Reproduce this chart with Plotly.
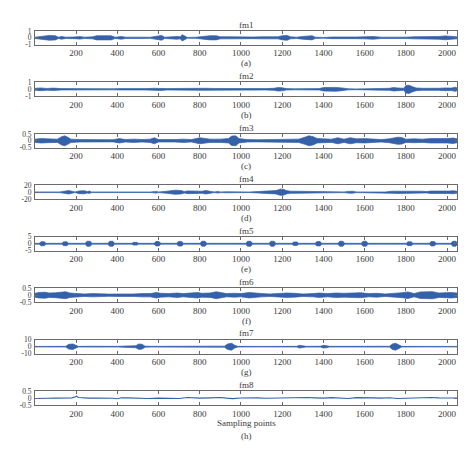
import plotly.graph_objects as go

# ---------------- data (envelopes) ----------------
names = ["fm1", "fm2", "fm3", "fm4", "fm5", "fm6", "fm7", "fm8"]
sublabels = ["(a)", "(b)", "(c)", "(d)", "(e)", "(f)", "(g)", "(h)"]
y_limits = [1, 1, 0.5, 20, 5, 0.5, 10, 0.5]
x_ticks = [200, 400, 600, 800, 1000, 1200, 1400, 1600, 1800, 2000]
x_range = [1, 2048]
x_title = "Sampling points"

# (sample, amplitude) envelope breakpoints
fm1_env = [(1,0.1),(20,0.15),(40,0.3),(70,0.35),(100,0.3),(115,0.1),(130,0.2),(150,0.1),(190,0.12),
           (220,0.18),(240,0.1),(280,0.15),(300,0.3),(340,0.3),(370,0.3),(390,0.1),(420,0.2),(440,0.1),
           (480,0.15),(520,0.1),(560,0.08),(600,0.3),(615,0.35),(630,0.1),(660,0.2),(690,0.2),(705,0.15),
           (715,0.45),(725,0.3),(740,0.05),(780,0.08),(820,0.25),(850,0.3),(880,0.3),(900,0.15),(940,0.15),
           (980,0.12),(1020,0.15),(1060,0.12),(1100,0.15),(1140,0.12),(1180,0.15),(1200,0.3),(1225,0.35),
           (1240,0.15),(1270,0.1),(1300,0.2),(1330,0.3),(1345,0.3),(1360,0.1),(1400,0.05),(1440,0.12),
           (1480,0.1),(1520,0.15),(1560,0.12),(1600,0.15),(1640,0.2),(1680,0.1),(1720,0.08),(1760,0.12),
           (1800,0.1),(1840,0.15),(1880,0.15),(1920,0.18),(1960,0.2),(1990,0.28),(2020,0.25),(2048,0.15)]

fm2_env = [(1,0.15),(30,0.2),(60,0.12),(90,0.18),(130,0.1),(180,0.08),(240,0.06),(300,0.1),(340,0.06),
           (380,0.08),(420,0.1),(460,0.08),(500,0.12),(540,0.1),(580,0.15),(610,0.18),(640,0.1),(690,0.12),
           (750,0.15),(770,0.2),(790,0.12),(830,0.15),(870,0.12),(920,0.1),(960,0.08),(1000,0.1),(1040,0.08),
           (1080,0.12),(1120,0.1),(1160,0.15),(1180,0.25),(1200,0.22),(1220,0.1),(1260,0.08),(1300,0.12),
           (1340,0.08),(1380,0.1),(1400,0.25),(1430,0.3),(1460,0.28),(1490,0.2),(1520,0.08),(1560,0.06),
           (1600,0.05),(1640,0.1),(1680,0.12),(1720,0.15),(1740,0.25),(1760,0.2),(1790,0.15),(1800,0.55),
           (1815,0.6),(1830,0.4),(1850,0.2),(1880,0.15),(1920,0.1),(1960,0.15),(1990,0.2),(2020,0.18),
           (2040,0.3),(2048,0.2)]

fm3_env = [(1,0.12),(30,0.16),(60,0.14),(90,0.16),(110,0.12),(130,0.3),(145,0.36),(160,0.26),(175,0.12),
           (220,0.09),(260,0.08),(300,0.09),(340,0.08),(380,0.08),(410,0.16),(440,0.09),(480,0.12),(520,0.09),
           (560,0.12),(580,0.22),(600,0.09),(640,0.08),(680,0.09),(720,0.12),(760,0.09),(800,0.22),(820,0.16),
           (850,0.12),(900,0.12),(940,0.16),(955,0.34),(975,0.36),(990,0.16),(1030,0.09),(1080,0.08),(1120,0.09),
           (1160,0.08),(1200,0.06),(1240,0.09),(1280,0.12),(1310,0.26),(1330,0.36),(1350,0.3),(1370,0.16),
           (1400,0.14),(1440,0.12),(1470,0.22),(1500,0.12),(1530,0.22),(1560,0.14),(1600,0.16),(1640,0.12),
           (1680,0.09),(1720,0.14),(1760,0.26),(1780,0.24),(1800,0.12),(1840,0.14),(1880,0.12),(1920,0.16),
           (1960,0.14),(2000,0.16),(2030,0.2),(2048,0.14)]

fm4_env = [(1,1),(40,1.2),(50,3),(70,3),(80,1),(120,1),(145,4),(165,5),(180,3),(195,1),(215,4),(240,4.5),
           (255,2),(265,3.5),(275,1),(320,0.8),(370,0.8),(400,2),(410,0.8),(500,0.8),(530,1.5),(560,0.8),
           (590,2.5),(600,1),(640,3),(660,5),(680,6),(710,5),(725,2),(740,4),(770,4),(790,2),(810,3),(830,5),
           (850,3),(870,1),(890,2.5),(900,1),(930,1.5),(960,0.8),(1040,0.8),(1080,2),(1120,3),(1150,3),
           (1170,5),(1190,9),(1205,9),(1220,5),(1240,3),(1270,3),(1300,2.5),(1340,3),(1380,2.5),(1410,1),
           (1450,0.8),(1500,1),(1520,2.5),(1540,3),(1560,1),(1600,1),(1620,2),(1640,1),(1700,0.8),(1730,3),
           (1760,3.5),(1790,3),(1820,3.5),(1850,3),(1880,3),(1900,2),(1920,3.5),(1950,3),(1980,3.5),
           (2010,3.5),(2030,4.5),(2048,3)]

fm5_env = [(1,0.3),(22,0.3),(30,1.5),(46,1.5),(54,0.3),
           (132,0.3),(140,1.4),(156,1.4),(164,0.3),
           (245,0.3),(253,1.8),(269,1.8),(277,0.3),
           (355,0.3),(363,1.8),(379,1.8),(387,0.3),
           (471,0.3),(479,1.0),(495,1.0),(503,0.3),
           (579,0.3),(587,1.6),(603,1.6),(611,0.3),
           (689,0.3),(697,1.7),(713,1.7),(721,0.3),
           (802,0.3),(810,1.8),(826,1.8),(834,0.3),
           (911,0.3),(919,0.6),(935,0.6),(943,0.3),
           (1024,0.3),(1032,1.8),(1048,1.8),(1056,0.3),
           (1137,0.3),(1145,1.8),(1161,1.8),(1169,0.3),
           (1248,0.3),(1256,1.3),(1272,1.3),(1280,0.3),
           (1360,0.3),(1368,1.6),(1384,1.6),(1392,0.3),
           (1471,0.3),(1479,1.8),(1495,1.8),(1503,0.3),
           (1584,0.3),(1592,1.8),(1608,1.8),(1616,0.3),
           (1694,0.3),(1702,0.8),(1718,0.8),(1726,0.3),
           (1802,0.3),(1810,1.4),(1826,1.4),(1834,0.3),
           (1914,0.3),(1922,1.6),(1938,1.6),(1946,0.3),
           (2019,0.3),(2027,1.8),(2043,1.8),(2048,1.0)]

fm6_env = [(1,0.14),(20,0.2),(50,0.22),(70,0.16),(100,0.18),(130,0.25),(150,0.25),(170,0.16),(200,0.12),
           (240,0.09),(280,0.12),(320,0.09),(360,0.08),(400,0.09),(440,0.08),(480,0.09),(520,0.12),(560,0.12),
           (590,0.2),(610,0.14),(650,0.12),(690,0.16),(720,0.12),(760,0.18),(790,0.2),(810,0.14),(850,0.16),
           (880,0.25),(900,0.2),(930,0.12),(970,0.14),(1000,0.12),(1040,0.2),(1060,0.16),(1100,0.12),
           (1140,0.09),(1180,0.14),(1220,0.16),(1260,0.14),(1300,0.09),(1350,0.12),(1380,0.16),(1420,0.12),
           (1460,0.16),(1500,0.14),(1540,0.16),(1580,0.18),(1620,0.12),(1660,0.14),(1700,0.09),(1740,0.12),
           (1780,0.18),(1810,0.24),(1840,0.12),(1870,0.24),(1900,0.26),(1930,0.26),(1960,0.16),(1990,0.18),
           (2020,0.2),(2048,0.16)]

fm7_env = [(1,0.4),(40,0.5),(50,1.2),(60,0.5),(150,0.5),(165,3.5),(185,4),(200,2),(210,0.5),(280,0.6),
           (300,0.5),(400,0.5),(490,1.5),(505,4),(520,3.5),(535,0.8),(560,0.5),(700,0.4),(830,0.5),(845,1.2),
           (860,0.5),(920,0.8),(935,4),(955,5),(970,2),(985,0.5),(1100,0.4),(1270,0.5),(1285,2),(1300,1.5),
           (1315,0.5),(1385,0.6),(1400,2),(1415,1.5),(1430,0.5),(1500,0.5),(1515,0.9),(1530,0.5),(1720,0.6),
           (1735,4),(1750,5),(1765,2.5),(1780,0.5),(1900,0.4),(2048,0.4)]

# fm8 is a slowly wandering line: (sample, value)
fm8_line = [(1,-0.02),(30,0.01),(60,-0.01),(100,0.0),(140,0.01),(180,0.02),(195,0.08),(202,0.14),(212,0.05),
            (230,0.02),(260,0.0),(300,0.01),(350,0.02),(380,-0.01),(400,-0.04),(420,0.03),(450,0.02),
            (480,0.0),(520,0.02),(550,-0.02),(600,0.0),(650,0.01),(700,-0.02),(740,0.05),(770,0.01),(800,0.0),
            (850,0.02),(900,0.05),(930,0.0),(960,-0.03),(1000,0.01),(1040,0.04),(1080,0.02),(1120,-0.01),
            (1160,0.0),(1200,0.04),(1240,0.01),(1280,0.02),(1320,0.05),(1360,0.02),(1400,0.0),(1440,0.04),
            (1480,0.01),(1520,-0.02),(1560,0.04),(1600,0.05),(1640,0.02),(1680,0.0),(1720,0.03),(1760,-0.02),
            (1800,0.0),(1840,0.02),(1880,0.0),(1920,0.05),(1960,0.02),(2000,0.03),(2048,0.01)]

envelopes = [fm1_env, fm2_env, fm3_env, fm4_env, fm5_env, fm6_env, fm7_env]

# ---------------- layout constants ----------------
W, H = 474, 462
X_LEFT, X_RIGHT = 35, 457
BOX_H = 14
TOPS = [27.5, 80, 132.5, 185, 237.5, 290, 342.5, 395]
FONT = "Liberation Serif"
TXT = "#3a3a3a"
FRAME = "#6a6a6a"
SIG = "#3561a8"


def fmt(v):
    return "%g" % v


fig = go.Figure()
layout = dict(
    width=W, height=H, margin=dict(l=0, r=0, t=0, b=0),
    paper_bgcolor="white", plot_bgcolor="white", showlegend=False,
    font=dict(family=FONT, size=9, color=TXT),
)
annotations = []

for i, name in enumerate(names):
    n = i + 1
    top = TOPS[i]
    y0 = 1 - (top + BOX_H) / H
    y1 = 1 - top / H
    xa = "x" if n == 1 else f"x{n}"
    ya = "y" if n == 1 else f"y{n}"
    L = y_limits[i]

    if i < len(envelopes):
        env = envelopes[i]
        xs = [p[0] for p in env]
        amps = [p[1] for p in env]
        fig.add_trace(go.Scatter(x=xs, y=[-a for a in amps], mode="lines",
                                 line=dict(color=SIG, width=0.7), xaxis=xa, yaxis=ya,
                                 hoverinfo="skip"))
        fig.add_trace(go.Scatter(x=xs, y=amps, mode="lines", fill="tonexty",
                                 fillcolor=SIG, line=dict(color=SIG, width=0.7),
                                 xaxis=xa, yaxis=ya, hoverinfo="skip"))
    else:
        xs = [p[0] for p in fm8_line]
        vals = [p[1] for p in fm8_line]
        fig.add_trace(go.Scatter(x=xs, y=vals, mode="lines",
                                 line=dict(color=SIG, width=1.1), xaxis=xa, yaxis=ya,
                                 hoverinfo="skip"))

    layout["xaxis" if n == 1 else f"xaxis{n}"] = dict(
        domain=[X_LEFT / W, X_RIGHT / W], range=x_range, anchor=ya,
        tickvals=x_ticks, ticktext=[str(t) for t in x_ticks],
        ticks="inside", ticklen=3, tickcolor=FRAME, tickwidth=1,
        showline=True, linecolor=FRAME, linewidth=1, mirror="ticks",
        showgrid=False, zeroline=False, tickfont=dict(family=FONT, size=9, color=TXT),
    )
    layout["yaxis" if n == 1 else f"yaxis{n}"] = dict(
        domain=[y0, y1], range=[-L, L], anchor=xa,
        tickvals=[L, 0, -L], ticktext=[fmt(L), "0", "-" + fmt(L)],
        ticks="inside", ticklen=3, tickcolor=FRAME, tickwidth=1,
        showline=True, linecolor=FRAME, linewidth=1, mirror="ticks",
        showgrid=False, zeroline=False, tickfont=dict(family=FONT, size=7.5, color=TXT),
        ticklabelstandoff=1,
    )

    cx = (X_LEFT + X_RIGHT) / 2 / W
    annotations.append(dict(text=name, x=cx, y=1 - (top - 6.5) / H, xref="paper", yref="paper",
                            showarrow=False, xanchor="center", yanchor="middle",
                            font=dict(family=FONT, size=9, color=TXT)))
    sy = top + BOX_H + 19 if n < 8 else 441
    annotations.append(dict(text=sublabels[i], x=cx, y=1 - sy / H, xref="paper", yref="paper",
                            showarrow=False, xanchor="center", yanchor="middle",
                            font=dict(family=FONT, size=9, color=TXT)))

annotations.append(dict(text=x_title, x=(X_LEFT + X_RIGHT) / 2 / W, y=1 - 427 / H,
                        xref="paper", yref="paper", showarrow=False,
                        xanchor="center", yanchor="middle",
                        font=dict(family=FONT, size=9, color=TXT)))
layout["annotations"] = annotations
fig.update_layout(**layout)
fig.write_html("out.html", config={"displayModeBar": False},
               post_script="document.body.style.margin='0';document.body.style.overflow='hidden';")
